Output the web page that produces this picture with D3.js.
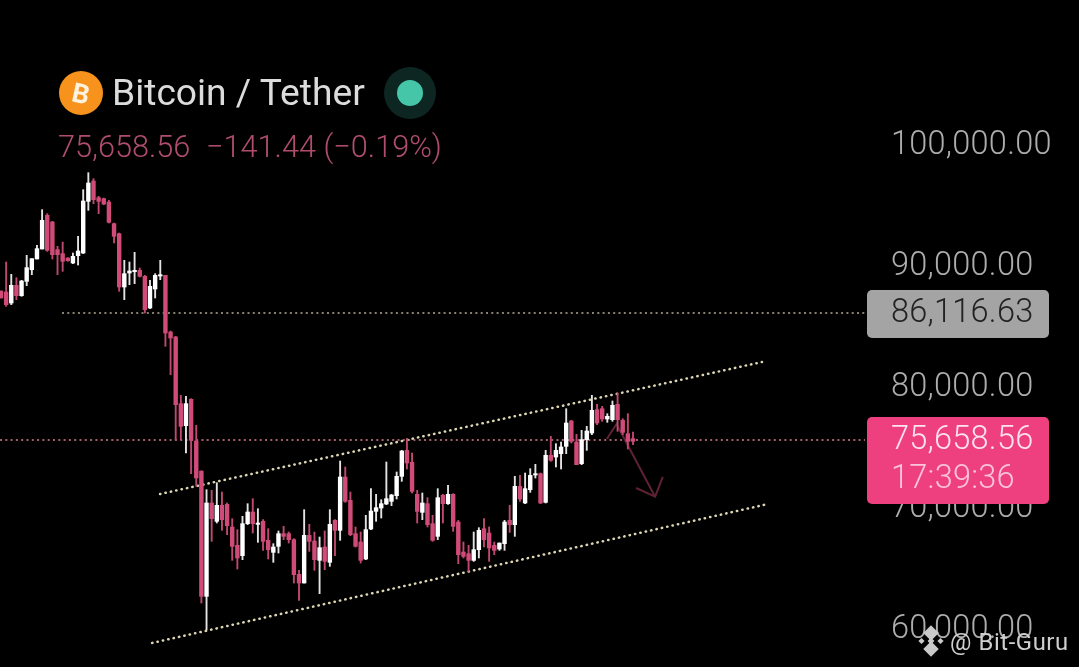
<!DOCTYPE html>
<html>
<head>
<meta charset="utf-8">
<script src="https://cdn.jsdelivr.net/npm/d3@7"></script>
<style>
  html, body { margin: 0; padding: 0; background: #000; overflow: hidden; }
  text { font-family: Roboto, "Noto Sans", sans-serif; }
</style>
</head>
<body>
<div id="chart"></div>
<script>
// candles, oldest first
const opens = [87795,87713,86748,88264,87355,88539,89503,90385,91212,94049,
93498,91212,90881,90523,90054,90661,90881,95151,96887,95509,
95427,95151,93360,92534,88071,89228,89338,89503,89008,86335,
87906,89008,89090,84408,83994,78484,76611,78843,75399,72919,
62505,70275,68704,70082,70164,68291,66776,65867,68511,69531,
68456,68759,67189,66142,66638,67740,67740,67244,64379,63607,
67602,67134,65481,66638,65316,68842,67960,72423,70495,67740,
67051,65591,68071,69531,69806,70137,70357,70826,72423,74627,
73636,70991,69448,70219,68566,67464,70908,70164,70991,68704,
66225,66087,65481,66362,68153,67795,66776,66418,66858,68842,
68429,71652,70219,71321,72589,72699,70275,74214,74021,74297,
74903,77052,75316,73470,75454,76005,77989,78071,77162,77107,
78429,77107,76005,75592];
const highs = [87795,90192,89173,88897,88677,90743,90468,91570,94518,94187,
93553,91487,91845,90550,90936,92314,96171,97576,97080,95620,
95482,95289,93416,92589,90330,90192,90991,89696,89090,88677,
89228,90330,89090,84490,84050,79173,79091,78898,76694,72919,
71377,71321,71955,71184,70275,68980,68071,69173,70219,70633,
69806,68897,68153,66913,67960,68346,67878,67327,64709,69724,
68511,67878,67464,67960,69724,68897,73746,73250,71184,68291,
67878,69255,71459,70991,70550,73663,70991,72837,74627,75592,
74407,71321,71101,70715,69255,71459,70991,71735,71046,68842,
67051,66776,67878,68236,68980,68291,67051,66969,68842,70082,
72479,72561,72754,73112,73470,72754,74627,75785,75178,75316,
78071,77107,75950,76280,76611,79173,78429,78264,77658,78705,
79366,77245,77658,76143];
const lows = [87162,86473,86611,87024,87299,88181,89090,90385,91212,91019,
90385,89090,89366,90192,89999,89889,90826,94407,94958,94132,
94876,93360,91707,87713,87024,88264,88346,88897,85922,86280,
87162,88677,83168,80826,75454,75454,74352,72644,71597,61954,
59750,67051,68566,67960,67602,65481,64765,65536,68429,67740,
66969,66307,65591,65316,66087,67189,66913,63607,62175,63607,
66225,64654,62726,64709,64985,65867,67134,70275,67520,66583,
65260,65536,68015,68704,68980,70082,69999,70550,72010,73030,
71046,68566,68842,68236,67051,67189,68566,70109,67878,65205,
65674,64572,65398,65674,66583,65398,65949,66307,66307,67795,
67464,70357,70164,71101,72286,70164,70219,73663,73195,73030,
74297,75178,73388,73388,74572,75867,76694,76969,76887,76969,
76143,75867,74683,75041];
const closes = [87162,86611,88264,87355,88622,89724,90468,91294,93636,91101,
90743,90743,90192,90247,90661,91101,95234,96722,95289,95151,
94931,93416,92258,88071,89228,89448,89503,88952,86197,88181,
89090,89145,84270,83857,78347,76556,78484,75399,72286,62505,
70275,68925,70082,68842,68346,66638,65674,68566,69531,68511,
68622,67051,66362,66638,67740,67464,67189,64296,63607,67602,
67051,65536,66583,65398,68511,67960,72423,70357,67602,66638,
65481,68071,69613,69889,70219,70633,70936,72479,74572,73525,
71184,69531,70275,68429,67134,70715,70164,70991,68291,65949,
65811,65481,66418,68015,67189,66500,66307,66969,68704,68429,
71652,70550,71459,72561,72699,70219,74214,73746,74627,74903,
76887,75316,73388,75509,76225,77933,76831,77162,77438,78347,
77107,76060,75316,75316];

const priceTicks = [100000, 90000, 80000, 70000, 60000];

// trendlines as [candle index, price]
const upperChannel = [[30.95, 70990], [148.1, 81900]];
const lowerChannel = [[29.4, 58680], [149.3, 70170]];
const arrowShaft = [[117.9, 75540], [119.8, 76780], [127.3, 70770]];
const arrowHead = [[123.6, 71490], [127.3, 70770], [128.8, 72400]];

// horizontal guides sit a little below the label value in the photo
const guideLevels = [
    { price: 85950, x0: 62, color: "#86816f" },
    { price: 75450, x0: 0, color: "#a35e6a" }
];

const width = 1079, height = 667;

const x = d3.scaleLinear().domain([0, 123]).range([1, 633]);
const y = d3.scaleLinear().domain([60000, 100000]).range([627, 143]);

const svg = d3.select("#chart").append("svg")
    .attr("width", width)
    .attr("height", height)
    .style("display", "block")
    .style("background", "#000");

// the reference is a soft phone photo
const defs = svg.append("defs");
defs.append("filter").attr("id", "soft")
    .append("feGaussianBlur").attr("stdDeviation", 0.65);
defs.append("filter").attr("id", "softText")
    .append("feGaussianBlur").attr("stdDeviation", 0.4);

const chart = svg.append("g").attr("filter", "url(#soft)");

// guides
chart.selectAll(".guide").data(guideLevels).enter().append("line")
    .attr("class", "guide")
    .attr("x1", d => d.x0)
    .attr("x2", 865)
    .attr("y1", d => y(d.price))
    .attr("y2", d => y(d.price))
    .attr("stroke", d => d.color)
    .attr("stroke-width", 2)
    .attr("stroke-dasharray", "2 3.3");

const line = d3.line().x(d => x(d[0])).y(d => y(d[1]));

// arrow goes under the candles
chart.selectAll(".arrow").data([arrowShaft, arrowHead]).enter().append("path")
    .attr("class", "arrow")
    .attr("d", line)
    .attr("fill", "none")
    .attr("stroke", "#5e2334")
    .attr("stroke-width", 2);

// channel
chart.selectAll(".channel").data([upperChannel, lowerChannel]).enter().append("path")
    .attr("class", "channel")
    .attr("d", line)
    .attr("fill", "none")
    .attr("stroke", "#dcd6b2")
    .attr("stroke-width", 2.5)
    .attr("stroke-linecap", "round")
    .attr("stroke-dasharray", "0.4 5.1");

// candles
const candles = opens.map((o, i) => ({ i: i, o: o, h: highs[i], l: lows[i], c: closes[i] }));
const up = d => d.c >= d.o;
const red = "#d04c79", white = "#ffffff";

const candle = chart.selectAll(".candle").data(candles).enter().append("g").attr("class", "candle");
candle.append("line")
    .attr("x1", d => x(d.i))
    .attr("x2", d => x(d.i))
    .attr("y1", d => y(d.h))
    .attr("y2", d => y(d.l))
    .attr("stroke", d => up(d) ? "#e4e2e2" : "#bf4870")
    .attr("stroke-width", 1.9);
candle.append("rect")
    .attr("x", d => x(d.i) - 2.2)
    .attr("width", 4.4)
    .attr("y", d => y(Math.max(d.o, d.c)))
    .attr("height", d => Math.max(2, Math.abs(y(d.o) - y(d.c))))
    .attr("fill", d => up(d) ? white : red);

// price axis, badges are painted over it afterwards
const axis = d3.axisRight(y)
    .tickValues(priceTicks)
    .tickFormat(d3.format(",.2f"))
    .tickSize(0)
    .tickPadding(0);
const axisG = svg.append("g")
    .attr("transform", "translate(891,0)")
    .attr("filter", "url(#softText)")
    .call(axis);
axisG.select(".domain").remove();
axisG.selectAll("text")
    .attr("fill", "#adadad")
    .style("font-size", "32.5px")
    .style("font-weight", 300)
    .style("letter-spacing", "0.25px");

// header
const head = svg.append("g").attr("filter", "url(#softText)");
head.append("circle").attr("cx", 81).attr("cy", 93).attr("r", 22).attr("fill", "#f7931a");
head.append("text").attr("x", 81).attr("y", 103)
    .attr("text-anchor", "middle")
    .attr("transform", "rotate(12 81 93)")
    .attr("fill", "#fff3df")
    .style("font-size", "27px").style("font-weight", 700)
    .text("B");
head.append("text").attr("x", 112).attr("y", 105)
    .attr("fill", "#dcdcdc")
    .style("font-size", "37.2px").style("font-weight", 400)
    .text("Bitcoin / Tether");
head.append("circle").attr("cx", 410).attr("cy", 93).attr("r", 26).attr("fill", "#0b2522");
head.append("circle").attr("cx", 410).attr("cy", 93).attr("r", 13).attr("fill", "#45c6a8");
head.append("text").attr("x", 58).attr("y", 157)
    .attr("fill", "#b04e6d")
    .style("font-size", "30.7px").style("font-weight", 300)
    .text("75,658.56");
head.append("text").attr("x", 206).attr("y", 157)
    .attr("fill", "#b04e6d")
    .style("font-size", "30.7px").style("font-weight", 300)
    .text("\u2212141.44 (\u22120.19%)");

// badges
const badgeFont = sel => sel.style("font-size", "32.5px").style("font-weight", 300).style("letter-spacing", "0.25px");
const badges = svg.append("g").attr("filter", "url(#softText)");
badges.append("rect").attr("x", 867).attr("y", 290).attr("width", 182).attr("height", 48).attr("rx", 5)
    .attr("fill", "#a4a4a4");
badges.append("text").attr("x", 891).attr("y", 322)
    .attr("fill", "#222").call(badgeFont)
    .text("86,116.63");
badges.append("rect").attr("x", 867).attr("y", 417).attr("width", 182).attr("height", 87).attr("rx", 5)
    .attr("fill", "#ee3f7e");
badges.append("text").attr("x", 891).attr("y", 449)
    .attr("fill", "#fde3ec").call(badgeFont)
    .text("75,658.56");
badges.append("text").attr("x", 891).attr("y", 488)
    .attr("fill", "#fbc4d8").call(badgeFont)
    .text("17:39:36");

// watermark
const mark = svg.append("g").attr("filter", "url(#softText)");
const logo = mark.append("g").attr("transform", "translate(931,641)").attr("fill", "#c9c9c9");
[[0, -8, 5.5], [-9.5, 0, 2.2], [9.5, 0, 2.2], [0, 0, 2.4], [0, 8, 5.5]].forEach(d => {
    logo.append("rect")
        .attr("x", -d[2]).attr("y", -d[2])
        .attr("width", d[2] * 2).attr("height", d[2] * 2)
        .attr("transform", `translate(${d[0]},${d[1]}) rotate(45)`);
});
mark.append("text").attr("x", 950).attr("y", 650)
    .attr("fill", "#cfcfcf")
    .style("font-size", "23.8px")
    .style("font-weight", 400)
    .style("letter-spacing", "0.6px")
    .text("@ Bit-Guru");
</script>
</body>
</html>
